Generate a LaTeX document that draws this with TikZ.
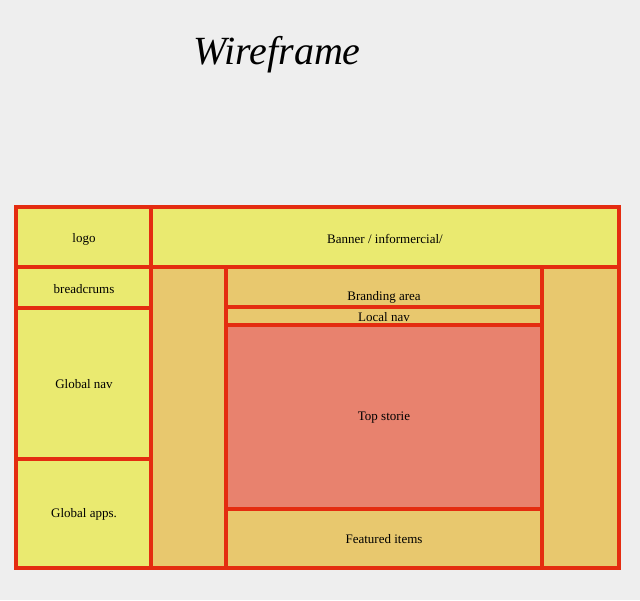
\documentclass[tikz,border=0pt]{standalone}
\usepackage{fontspec}
\setmainfont{Liberation Serif}
\begin{document}
\begin{tikzpicture}[x=1pt,y=-1pt,
  cell/.style={draw=lin, line width=3.4pt},
  lab/.style={font=\fontsize{13}{15}\selectfont},
  ]
\definecolor{yel}{HTML}{EAEA70}
\definecolor{tan}{HTML}{E8C86E}
\definecolor{sal}{HTML}{E8826E}
\definecolor{bg}{HTML}{EEEEEE}
\definecolor{lin}{HTML}{E42C10}
\fill[bg] (0,0) rectangle (640,600);
\useasboundingbox (0,0) rectangle (640,600);
\node (title) at (277,55) {\fontsize{40}{44}\selectfont\itshape Wireframe};
% cells
\filldraw[cell,fill=yel] (16,207) rectangle (151,267);
\filldraw[cell,fill=yel] (151,207) rectangle (619,267);
\filldraw[cell,fill=yel] (16,267) rectangle (151,308);
\filldraw[cell,fill=yel] (16,308) rectangle (151,459);
\filldraw[cell,fill=yel] (16,459) rectangle (151,568);
\filldraw[cell,fill=tan] (151,267) rectangle (226,568);
\filldraw[cell,fill=tan] (226,267) rectangle (542,307);
\filldraw[cell,fill=tan] (226,307) rectangle (542,325);
\filldraw[cell,fill=sal] (226,325) rectangle (542,509);
\filldraw[cell,fill=tan] (226,509) rectangle (542,568);
\filldraw[cell,fill=tan] (542,267) rectangle (619,568);
% labels
\node[lab] (logo) at (84,239) {logo};
\node[lab] (banner) at (385,239) {Banner / informercial/};
\node[lab] (bc) at (84,289) {breadcrums};
\node[lab] (gn) at (84,384) {Global nav};
\node[lab] (ga) at (84,514) {Global apps.};
\node[lab] (br) at (384,297) {Branding area};
\node[lab] (ln) at (384,317) {Local nav};
\node[lab] (ts) at (384,418) {Top storie};
\node[lab] (fi) at (384,539) {Featured items};
\end{tikzpicture}
\end{document}
